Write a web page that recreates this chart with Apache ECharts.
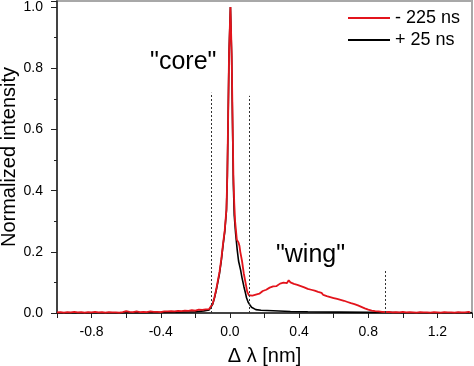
<!DOCTYPE html>
<html>
<head>
<meta charset="utf-8">
<script src="https://cdn.jsdelivr.net/npm/echarts@6/dist/echarts.min.js"></script>
<style>html,body{margin:0;padding:0;background:#fff}#c{width:474px;height:366px}</style>
</head>
<body>
<div id="c"></div>
<script>
// -225 ns (red) : [delta lambda (nm), normalized intensity]
const red225 = [
[-1.00,0.002],[-0.98,0.003],[-0.96,0.001],[-0.94,0.003],[-0.92,0.002],[-0.90,0.004],[-0.88,0.002],[-0.86,0.003],
[-0.84,0.001],[-0.82,0.003],[-0.80,0.002],[-0.78,0.004],[-0.76,0.002],[-0.74,0.003],[-0.72,0.001],[-0.70,0.003],
[-0.68,0.002],[-0.66,0.002],[-0.64,0.001],[-0.62,0.003],[-0.60,0.006],[-0.58,0.004],[-0.56,0.003],[-0.54,0.005],
[-0.52,0.003],[-0.50,0.004],[-0.48,0.003],[-0.46,0.005],[-0.44,0.004],[-0.42,0.004],[-0.40,0.003],[-0.38,0.005],
[-0.36,0.005],[-0.34,0.006],[-0.32,0.005],[-0.30,0.007],[-0.28,0.006],[-0.26,0.008],[-0.24,0.007],[-0.22,0.009],
[-0.20,0.008],[-0.18,0.011],[-0.16,0.010],[-0.14,0.012],[-0.12,0.013],[-0.11,0.017],[-0.10,0.030],[-0.09,0.050],
[-0.08,0.075],[-0.07,0.105],[-0.06,0.135],[-0.05,0.175],[-0.04,0.225],[-0.03,0.270],[-0.02,0.340],[-0.015,0.45],
[-0.01,0.65],[-0.005,0.85],[0.003,1.0],[0.010,0.85],[0.015,0.65],[0.020,0.45],[0.025,0.36],[0.030,0.30],
[0.040,0.24],[0.050,0.23],[0.055,0.22],[0.060,0.20],[0.070,0.17],[0.080,0.13],[0.090,0.10],[0.100,0.07],
[0.110,0.058],[0.12,0.060],[0.13,0.057],[0.14,0.062],[0.15,0.060],[0.16,0.066],[0.17,0.063],[0.18,0.068],
[0.19,0.072],[0.20,0.070],[0.21,0.076],[0.22,0.079],[0.23,0.083],[0.24,0.081],[0.25,0.087],[0.26,0.090],
[0.27,0.088],[0.28,0.094],[0.29,0.096],[0.30,0.093],[0.31,0.099],[0.32,0.101],[0.33,0.098],[0.34,0.107],
[0.35,0.100],[0.36,0.097],[0.37,0.095],[0.38,0.090],[0.39,0.092],[0.40,0.086],[0.41,0.088],[0.42,0.082],
[0.43,0.084],[0.44,0.078],[0.45,0.079],[0.46,0.075],[0.47,0.076],[0.48,0.071],[0.49,0.073],[0.50,0.067],
[0.51,0.069],[0.52,0.063],[0.53,0.066],[0.54,0.059],[0.55,0.061],[0.56,0.055],[0.57,0.058],[0.58,0.052],
[0.59,0.054],[0.60,0.049],[0.61,0.050],[0.62,0.046],[0.63,0.048],[0.64,0.043],[0.65,0.045],[0.66,0.040],
[0.67,0.042],[0.68,0.036],[0.69,0.038],[0.70,0.032],[0.71,0.034],[0.72,0.029],[0.73,0.027],[0.74,0.025],
[0.75,0.022],[0.76,0.020],[0.77,0.018],[0.78,0.015],[0.79,0.013],[0.80,0.011],[0.81,0.010],[0.82,0.008],
[0.83,0.007],[0.84,0.006],[0.85,0.007],[0.86,0.005],[0.87,0.006],[0.88,0.004],[0.89,0.005],[0.90,0.003],
[0.92,0.004],[0.94,0.002],[0.96,0.003],[0.98,0.002],[1.00,0.004],[1.02,0.002],[1.04,0.003],[1.06,0.002],
[1.08,0.001],[1.10,0.003],[1.12,0.002],[1.14,0.002],[1.16,0.001],[1.18,0.003],[1.20,0.002],[1.22,0.001],
[1.24,0.003],[1.26,0.002],[1.28,0.002],[1.30,0.001],[1.32,0.003],[1.34,0.002],[1.36,0.002],[1.38,0.004],[1.39,0.002]
];
// +25 ns (black)
const black25 = [
[-1.00,0.000],[-0.50,0.001],[-0.20,0.004],[-0.15,0.007],[-0.12,0.010],[-0.11,0.015],[-0.10,0.028],[-0.09,0.048],
[-0.08,0.072],[-0.07,0.100],[-0.06,0.130],[-0.05,0.170],[-0.04,0.220],[-0.03,0.265],[-0.02,0.335],[-0.015,0.45],
[-0.01,0.65],[-0.005,0.85],[0.003,1.0],[0.010,0.84],[0.015,0.62],[0.020,0.42],[0.025,0.32],[0.033,0.26],
[0.042,0.207],[0.050,0.17],[0.062,0.14],[0.070,0.115],[0.081,0.086],[0.090,0.065],[0.096,0.050],[0.105,0.036],
[0.115,0.027],[0.125,0.019],[0.133,0.014],[0.15,0.011],[0.18,0.009],[0.25,0.0075],[0.35,0.005],[0.45,0.004],
[0.63,0.003],[0.80,0.002],[0.90,0.002],[1.00,0.001],[1.40,0.001]
];
const seriesNames = ['- 225 ns', '+ 25 ns'];
// vertical dashed markers: [x, top]
const markers = [[-0.11, 0.72], [0.11, 0.71], [0.90, 0.14]];
// region annotations: [x, y, text]
const annotations = [[-0.27, 0.82, '"core"'], [0.466, 0.19, '"wing"']];
const xTicks = {min: -1.0, max: 1.4, interval: 0.2};
const yTicks = {min: 0, max: 1.02, interval: 0.2};

const font = 'Liberation Sans, Arial, sans-serif';
const chart = echarts.init(document.getElementById('c'), null, {renderer: 'canvas'});
chart.setOption({
  animation: false,
  backgroundColor: '#fff',
  grid: {left: 57, right: 2, top: 1, bottom: 53, show: true, borderColor: '#a8a8a8', borderWidth: 2,
    containLabel: false, outerBoundsMode: 'none'},
  legend: {
    data: seriesNames, orient: 'vertical', left: 348, top: 9, padding: 0, itemWidth: 42, itemHeight: 2, itemGap: 4,
    icon: 'rect',
    textStyle: {fontFamily: font, fontSize: 18, color: '#000', lineHeight: 18}
  },
  xAxis: {
    type: 'value', min: xTicks.min, max: xTicks.max, interval: xTicks.interval,
    name: 'Δ λ [nm]', nameLocation: 'middle', nameGap: 33, nameMoveOverlap: false,
    nameTextStyle: {fontFamily: font, fontSize: 20, color: '#000'},
    axisLine: {show: true, onZero: false, lineStyle: {color: '#222', width: 1.5}},
    axisTick: {show: true, length: 5, lineStyle: {color: '#222'}},
    splitLine: {show: false},
    axisLabel: {
      fontFamily: font, fontSize: 14, color: '#000', margin: 12, showMinLabel: true, showMaxLabel: true,
      formatter: v => (Math.round(v * 10) % 4 === 0) ? v.toFixed(1) : ''
    }
  },
  yAxis: {
    type: 'value', min: yTicks.min, max: yTicks.max, interval: yTicks.interval,
    name: 'Normalized intensity', nameLocation: 'middle', nameGap: 38, nameMoveOverlap: false,
    nameTextStyle: {fontFamily: font, fontSize: 20, color: '#000'},
    axisLine: {show: true, onZero: false, lineStyle: {color: '#222', width: 1.5}},
    axisTick: {show: true, length: 6, lineStyle: {color: '#222'}},
    minorTick: {show: true, splitNumber: 2, length: 3, lineStyle: {color: '#222'}},
    splitLine: {show: false},
    axisLabel: {fontFamily: font, fontSize: 14, color: '#000', margin: 14, showMaxLabel: false,
      formatter: v => v.toFixed(1)}
  },
  series: [
    {
      name: seriesNames[1], type: 'line', data: black25, symbol: 'none', z: 2,
      lineStyle: {color: '#000', width: 1.6}, itemStyle: {color: '#000'},
      markLine: {
        silent: true, symbol: 'none', label: {show: false},
        lineStyle: {color: '#333', type: [2, 2], width: 1},
        data: markers.map(m => [{coord: [m[0], 0]}, {coord: [m[0], m[1]]}])
      }
    },
    {
      name: seriesNames[0], type: 'line', data: red225, symbol: 'none', z: 3,
      lineStyle: {color: '#e3141c', width: 1.8}, itemStyle: {color: '#e3141c'},
      markPoint: {
        silent: true, symbol: 'circle', symbolSize: 0,
        label: {show: true, position: 'inside', fontFamily: font, fontSize: 25, color: '#000', formatter: p => p.name},
        data: annotations.map(a => ({name: a[2], coord: [a[0], a[1]]}))
      }
    }
  ]
});
</script>
</body>
</html>
